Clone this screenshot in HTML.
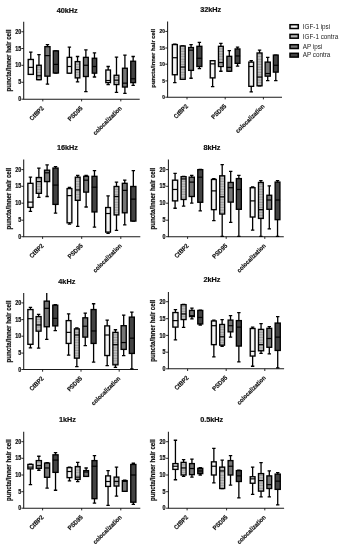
<!DOCTYPE html>
<html><head><meta charset="utf-8"><title>figure</title>
<style>html,body{margin:0;padding:0;background:#fff}svg{display:block}</style></head>
<body>
<svg width="342" height="550" viewBox="0 0 342 550" font-family="Liberation Sans, Arial, sans-serif">
<defs><linearGradient id="g1" x1="0" x2="1" y1="0" y2="0"><stop offset="0" stop-color="#d6d6d6"/><stop offset=".5" stop-color="#fafafa"/><stop offset="1" stop-color="#d6d6d6"/></linearGradient><pattern id="g2" width="4" height="2.6" patternUnits="userSpaceOnUse"><rect width="4" height="2.6" fill="#c4c4c4"/><rect y="1.5" width="4" height="1.1" fill="#9a9a9a"/></pattern></defs>
<rect width="342" height="550" fill="#fff"/>
<g>
<text transform="translate(67.2 12.7) scale(1,1.08)" font-size="7.3" font-weight="bold" text-anchor="middle" fill="#111" stroke="#111" stroke-width=".2">40kHz</text>
<path d="M23.7 21.8V99.2H139.7" fill="none" stroke="#1a1a1a" stroke-width="1.05"/>
<path d="M21.4 31.75H23.7" stroke="#111" stroke-width="0.9"/>
<text transform="translate(21.2 33.91) scale(1,1.2)" font-size="5.4" font-weight="bold" text-anchor="end" fill="#111" stroke="#111" stroke-width=".2">20</text>
<path d="M21.4 48.5H23.7" stroke="#111" stroke-width="0.9"/>
<text transform="translate(21.2 50.66) scale(1,1.2)" font-size="5.4" font-weight="bold" text-anchor="end" fill="#111" stroke="#111" stroke-width=".2">15</text>
<path d="M21.4 65.3H23.7" stroke="#111" stroke-width="0.9"/>
<text transform="translate(21.2 67.46) scale(1,1.2)" font-size="5.4" font-weight="bold" text-anchor="end" fill="#111" stroke="#111" stroke-width=".2">10</text>
<path d="M21.4 82.3H23.7" stroke="#111" stroke-width="0.9"/>
<text transform="translate(21.2 84.46) scale(1,1.2)" font-size="5.4" font-weight="bold" text-anchor="end" fill="#111" stroke="#111" stroke-width=".2">5</text>
<path d="M21.4 99.2H23.7" stroke="#111" stroke-width="0.9"/>
<text transform="translate(21.2 101.36) scale(1,1.2)" font-size="5.4" font-weight="bold" text-anchor="end" fill="#111" stroke="#111" stroke-width=".2">0</text>
<path d="M42.8 99.2v2.2" stroke="#111" stroke-width="0.9"/>
<path d="M81.6 99.2v2.2" stroke="#111" stroke-width="0.9"/>
<path d="M120.8 99.2v2.2" stroke="#111" stroke-width="0.9"/>
<text transform="translate(10.6 60.5) rotate(-90) scale(1,1.05)" font-size="6.15" font-weight="bold" text-anchor="middle" fill="#111" stroke="#111" stroke-width=".2">puncta/inner hair cell</text>
<text transform="translate(44.3 108.7) rotate(-45) scale(1,1.1)" font-size="5.75" font-weight="bold" text-anchor="end" fill="#111" stroke="#111" stroke-width=".15">CtBP2</text>
<text transform="translate(83.1 108.7) rotate(-45) scale(1,1.1)" font-size="5.75" font-weight="bold" text-anchor="end" fill="#111" stroke="#111" stroke-width=".15">PSD95</text>
<text transform="translate(122.3 108.7) rotate(-45) scale(1,1.1)" font-size="5.75" font-weight="bold" text-anchor="end" fill="#111" stroke="#111" stroke-width=".15">colocalization</text>
<path d="M30.79 52.11V74.39M29.09 52.11h3.4M29.09 74.39h3.4" stroke="#000" stroke-width="1.3" fill="none"/>
<rect x="28.21" y="59.47" width="5.14" height="14.91" fill="url(#g1)" stroke="#000" stroke-width="1.35"/>
<path d="M28.04 67.37H33.54" stroke="#000" stroke-width="1.2"/>
<path d="M38.95 54.56V79.65M37.25 54.56h3.4M37.25 79.65h3.4" stroke="#000" stroke-width="1.3" fill="none"/>
<rect x="36.63" y="65.26" width="4.61" height="14.39" fill="url(#g2)" stroke="#000" stroke-width="1.35"/>
<path d="M36.46 75.79H41.43" stroke="#000" stroke-width="1.2"/>
<path d="M47.46 44.56V84.04M45.76 44.56h3.4M45.76 84.04h3.4" stroke="#000" stroke-width="1.3" fill="none"/>
<rect x="44.88" y="46.67" width="5.14" height="29.47" fill="#767676" stroke="#000" stroke-width="1.35"/>
<path d="M44.71 55.61H50.2" stroke="#000" stroke-width="1.2"/>
<path d="M55.88 50.88V72.98M54.18 50.88h3.4M54.18 72.98h3.4" stroke="#000" stroke-width="1.3" fill="none"/>
<rect x="53.3" y="50.88" width="5.14" height="22.11" fill="#434343" stroke="#000" stroke-width="1.35"/>
<path d="M53.13 64.39H58.62" stroke="#000" stroke-width="1.2"/>
<path d="M69.39 47.19V73.16M67.69 47.19h3.4M67.69 73.16h3.4" stroke="#000" stroke-width="1.3" fill="none"/>
<rect x="67.16" y="57.37" width="4.44" height="15.79" fill="url(#g1)" stroke="#000" stroke-width="1.35"/>
<path d="M66.99 66.49H71.78" stroke="#000" stroke-width="1.2"/>
<path d="M77.54 56.49V81.93M75.84 56.49h3.4M75.84 81.93h3.4" stroke="#000" stroke-width="1.3" fill="none"/>
<rect x="75.23" y="61.58" width="4.61" height="16.32" fill="url(#g2)" stroke="#000" stroke-width="1.35"/>
<path d="M75.06 69.65H80.03" stroke="#000" stroke-width="1.2"/>
<path d="M85.88 49.82V91.58M84.18 49.82h3.4M84.18 91.58h3.4" stroke="#000" stroke-width="1.3" fill="none"/>
<rect x="83.48" y="57.37" width="4.79" height="19.12" fill="#767676" stroke="#000" stroke-width="1.35"/>
<path d="M83.31 65.26H88.45" stroke="#000" stroke-width="1.2"/>
<path d="M94.47 52.81V77.02M92.77 52.81h3.4M92.77 77.02h3.4" stroke="#000" stroke-width="1.3" fill="none"/>
<rect x="92.25" y="58.25" width="4.44" height="14.91" fill="#434343" stroke="#000" stroke-width="1.35"/>
<path d="M92.08 66.49H96.87" stroke="#000" stroke-width="1.2"/>
<path d="M108.16 66.49V84.56M106.46 66.49h3.4M106.46 84.56h3.4" stroke="#000" stroke-width="1.3" fill="none"/>
<rect x="105.85" y="70" width="4.61" height="12.63" fill="url(#g1)" stroke="#000" stroke-width="1.35"/>
<path d="M105.68 80.53H110.64" stroke="#000" stroke-width="1.2"/>
<path d="M116.49 57.19V92.28M114.79 57.19h3.4M114.79 92.28h3.4" stroke="#000" stroke-width="1.3" fill="none"/>
<rect x="114.09" y="75.26" width="4.79" height="9.3" fill="url(#g2)" stroke="#000" stroke-width="1.35"/>
<path d="M113.92 80.18H119.06" stroke="#000" stroke-width="1.2"/>
<path d="M124.91 55.09V93.33M123.21 55.09h3.4M123.21 93.33h3.4" stroke="#000" stroke-width="1.3" fill="none"/>
<rect x="122.51" y="68.25" width="4.79" height="18.77" fill="#767676" stroke="#000" stroke-width="1.35"/>
<path d="M122.34 83.16H127.48" stroke="#000" stroke-width="1.2"/>
<path d="M133.16 56.49V85.44M131.46 56.49h3.4M131.46 85.44h3.4" stroke="#000" stroke-width="1.3" fill="none"/>
<rect x="130.76" y="61.23" width="4.79" height="21.4" fill="#434343" stroke="#000" stroke-width="1.35"/>
<path d="M130.59 78.77H135.73" stroke="#000" stroke-width="1.2"/>
</g>
<g>
<text transform="translate(210.7 12.2) scale(1,1.08)" font-size="7.3" font-weight="bold" text-anchor="middle" fill="#111" stroke="#111" stroke-width=".2">32kHz</text>
<path d="M167.6 21.4V97.2H282" fill="none" stroke="#1a1a1a" stroke-width="1.05"/>
<path d="M165.3 31.4H167.6" stroke="#111" stroke-width="0.9"/>
<text transform="translate(164.9 33.32) scale(1,1.2)" font-size="4.8" font-weight="bold" text-anchor="end" fill="#111" stroke="#111" stroke-width=".2">20</text>
<path d="M165.3 48H167.6" stroke="#111" stroke-width="0.9"/>
<text transform="translate(164.9 49.92) scale(1,1.2)" font-size="4.8" font-weight="bold" text-anchor="end" fill="#111" stroke="#111" stroke-width=".2">15</text>
<path d="M165.3 64.2H167.6" stroke="#111" stroke-width="0.9"/>
<text transform="translate(164.9 66.12) scale(1,1.2)" font-size="4.8" font-weight="bold" text-anchor="end" fill="#111" stroke="#111" stroke-width=".2">10</text>
<path d="M165.3 80.9H167.6" stroke="#111" stroke-width="0.9"/>
<text transform="translate(164.9 82.82) scale(1,1.2)" font-size="4.8" font-weight="bold" text-anchor="end" fill="#111" stroke="#111" stroke-width=".2">5</text>
<path d="M165.3 97.2H167.6" stroke="#111" stroke-width="0.9"/>
<text transform="translate(164.9 99.12) scale(1,1.2)" font-size="4.8" font-weight="bold" text-anchor="end" fill="#111" stroke="#111" stroke-width=".2">0</text>
<path d="M187 97.2v2.2" stroke="#111" stroke-width="0.9"/>
<path d="M225.2 97.2v2.2" stroke="#111" stroke-width="0.9"/>
<path d="M263.4 97.2v2.2" stroke="#111" stroke-width="0.9"/>
<text transform="translate(154.8 58.3) rotate(-90) scale(1,0.98)" font-size="5.85" font-weight="bold" text-anchor="middle" fill="#111" stroke="#111" stroke-width=".2">puncta/inner hair cell</text>
<text transform="translate(188.5 106.7) rotate(-45) scale(1,1.1)" font-size="5.75" font-weight="bold" text-anchor="end" fill="#111" stroke="#111" stroke-width=".15">CtBP2</text>
<text transform="translate(226.7 106.7) rotate(-45) scale(1,1.1)" font-size="5.75" font-weight="bold" text-anchor="end" fill="#111" stroke="#111" stroke-width=".15">PSD95</text>
<text transform="translate(264.9 106.7) rotate(-45) scale(1,1.1)" font-size="5.75" font-weight="bold" text-anchor="end" fill="#111" stroke="#111" stroke-width=".15">colocalization</text>
<path d="M174.82 44.04V82.63M173.12 44.04h3.4M173.12 82.63h3.4" stroke="#000" stroke-width="1.3" fill="none"/>
<rect x="172.34" y="44.56" width="4.97" height="30.18" fill="url(#g1)" stroke="#000" stroke-width="1.35"/>
<path d="M172.17 57.72H177.48" stroke="#000" stroke-width="1.2"/>
<path d="M182.72 45.96V79.3M181.02 45.96h3.4M181.02 79.3h3.4" stroke="#000" stroke-width="1.3" fill="none"/>
<rect x="180.23" y="45.96" width="4.97" height="33.33" fill="url(#g2)" stroke="#000" stroke-width="1.35"/>
<path d="M180.06 67.02H185.38" stroke="#000" stroke-width="1.2"/>
<path d="M191.05 44.56V78.25M189.35 44.56h3.4M189.35 78.25h3.4" stroke="#000" stroke-width="1.3" fill="none"/>
<rect x="188.65" y="47.54" width="4.79" height="22.81" fill="#767676" stroke="#000" stroke-width="1.35"/>
<path d="M188.48 50.18H193.62" stroke="#000" stroke-width="1.2"/>
<path d="M199.39 42.28V68.6M197.69 42.28h3.4M197.69 68.6h3.4" stroke="#000" stroke-width="1.3" fill="none"/>
<rect x="196.9" y="46.32" width="4.97" height="20.18" fill="#434343" stroke="#000" stroke-width="1.35"/>
<path d="M196.73 58.25H202.04" stroke="#000" stroke-width="1.2"/>
<path d="M212.63 60.7V86.67M210.93 60.7h3.4M210.93 86.67h3.4" stroke="#000" stroke-width="1.3" fill="none"/>
<rect x="210.23" y="60.7" width="4.79" height="17.19" fill="url(#g1)" stroke="#000" stroke-width="1.35"/>
<path d="M210.06 63.86H215.2" stroke="#000" stroke-width="1.2"/>
<path d="M220.88 43.33V71.23M219.18 43.33h3.4M219.18 71.23h3.4" stroke="#000" stroke-width="1.3" fill="none"/>
<rect x="218.48" y="46.32" width="4.79" height="20.18" fill="url(#g2)" stroke="#000" stroke-width="1.35"/>
<path d="M218.31 62.63H223.45" stroke="#000" stroke-width="1.2"/>
<path d="M229.3 50.7V71.23M227.6 50.7h3.4M227.6 71.23h3.4" stroke="#000" stroke-width="1.3" fill="none"/>
<rect x="226.9" y="56.32" width="4.79" height="14.91" fill="#767676" stroke="#000" stroke-width="1.35"/>
<path d="M226.73 67.37H231.87" stroke="#000" stroke-width="1.2"/>
<path d="M237.54 47.19V66.14M235.84 47.19h3.4M235.84 66.14h3.4" stroke="#000" stroke-width="1.3" fill="none"/>
<rect x="235.14" y="48.95" width="4.79" height="14.39" fill="#434343" stroke="#000" stroke-width="1.35"/>
<path d="M234.97 55.96H240.11" stroke="#000" stroke-width="1.2"/>
<path d="M251.23 60.7V91.93M249.53 60.7h3.4M249.53 91.93h3.4" stroke="#000" stroke-width="1.3" fill="none"/>
<rect x="248.83" y="62.11" width="4.79" height="24.21" fill="url(#g1)" stroke="#000" stroke-width="1.35"/>
<path d="M248.66 66.49H253.8" stroke="#000" stroke-width="1.2"/>
<path d="M259.56 50.18V85.79M257.86 50.18h3.4M257.86 85.79h3.4" stroke="#000" stroke-width="1.3" fill="none"/>
<rect x="257.07" y="52.98" width="4.97" height="32.81" fill="url(#g2)" stroke="#000" stroke-width="1.35"/>
<path d="M256.9 77.02H262.22" stroke="#000" stroke-width="1.2"/>
<path d="M267.72 57.37V80.53M266.02 57.37h3.4M266.02 80.53h3.4" stroke="#000" stroke-width="1.3" fill="none"/>
<rect x="265.14" y="62.11" width="5.14" height="14.04" fill="#767676" stroke="#000" stroke-width="1.35"/>
<path d="M264.97 73.51H270.46" stroke="#000" stroke-width="1.2"/>
<path d="M275.79 55.09V80.53M274.09 55.09h3.4M274.09 80.53h3.4" stroke="#000" stroke-width="1.3" fill="none"/>
<rect x="273.39" y="55.09" width="4.79" height="17.02" fill="#434343" stroke="#000" stroke-width="1.35"/>
<path d="M273.22 65.26H278.36" stroke="#000" stroke-width="1.2"/>
</g>
<g>
<text transform="translate(67.4 150.2) scale(1,1.08)" font-size="7.3" font-weight="bold" text-anchor="middle" fill="#111" stroke="#111" stroke-width=".2">16kHz</text>
<path d="M23.7 159.6V236.7H140.3" fill="none" stroke="#1a1a1a" stroke-width="1.05"/>
<path d="M21.4 169.6H23.7" stroke="#111" stroke-width="0.9"/>
<text transform="translate(21.2 171.76) scale(1,1.2)" font-size="5.4" font-weight="bold" text-anchor="end" fill="#111" stroke="#111" stroke-width=".2">20</text>
<path d="M21.4 186.3H23.7" stroke="#111" stroke-width="0.9"/>
<text transform="translate(21.2 188.46) scale(1,1.2)" font-size="5.4" font-weight="bold" text-anchor="end" fill="#111" stroke="#111" stroke-width=".2">15</text>
<path d="M21.4 203.2H23.7" stroke="#111" stroke-width="0.9"/>
<text transform="translate(21.2 205.36) scale(1,1.2)" font-size="5.4" font-weight="bold" text-anchor="end" fill="#111" stroke="#111" stroke-width=".2">10</text>
<path d="M21.4 220.2H23.7" stroke="#111" stroke-width="0.9"/>
<text transform="translate(21.2 222.36) scale(1,1.2)" font-size="5.4" font-weight="bold" text-anchor="end" fill="#111" stroke="#111" stroke-width=".2">5</text>
<path d="M21.4 236.7H23.7" stroke="#111" stroke-width="0.9"/>
<text transform="translate(21.2 238.86) scale(1,1.2)" font-size="5.4" font-weight="bold" text-anchor="end" fill="#111" stroke="#111" stroke-width=".2">0</text>
<path d="M42.6 236.7v2.2" stroke="#111" stroke-width="0.9"/>
<path d="M81.7 236.7v2.2" stroke="#111" stroke-width="0.9"/>
<path d="M120.8 236.7v2.2" stroke="#111" stroke-width="0.9"/>
<text transform="translate(10.6 198.7) rotate(-90) scale(1,1.05)" font-size="6.15" font-weight="bold" text-anchor="middle" fill="#111" stroke="#111" stroke-width=".2">puncta/inner hair cell</text>
<text transform="translate(44.1 246.2) rotate(-45) scale(1,1.1)" font-size="5.75" font-weight="bold" text-anchor="end" fill="#111" stroke="#111" stroke-width=".15">CtBP2</text>
<text transform="translate(83.2 246.2) rotate(-45) scale(1,1.1)" font-size="5.75" font-weight="bold" text-anchor="end" fill="#111" stroke="#111" stroke-width=".15">PSD95</text>
<text transform="translate(122.3 246.2) rotate(-45) scale(1,1.1)" font-size="5.75" font-weight="bold" text-anchor="end" fill="#111" stroke="#111" stroke-width=".15">colocalization</text>
<path d="M30.44 177.19V211.4M28.74 177.19h3.4M28.74 211.4h3.4" stroke="#000" stroke-width="1.3" fill="none"/>
<rect x="27.86" y="183.33" width="5.14" height="24.04" fill="url(#g1)" stroke="#000" stroke-width="1.35"/>
<path d="M27.69 202.11H33.18" stroke="#000" stroke-width="1.2"/>
<path d="M38.86 168.07V197.37M37.16 168.07h3.4M37.16 197.37h3.4" stroke="#000" stroke-width="1.3" fill="none"/>
<rect x="36.28" y="177.54" width="5.14" height="15.79" fill="url(#g2)" stroke="#000" stroke-width="1.35"/>
<path d="M36.11 181.58H41.61" stroke="#000" stroke-width="1.2"/>
<path d="M47.11 164.91V196.49M45.41 164.91h3.4M45.41 196.49h3.4" stroke="#000" stroke-width="1.3" fill="none"/>
<rect x="44.53" y="170.18" width="5.14" height="11.4" fill="#767676" stroke="#000" stroke-width="1.35"/>
<path d="M44.36 172.81H49.85" stroke="#000" stroke-width="1.2"/>
<path d="M55.53 166.67V213.16M53.83 166.67h3.4M53.83 213.16h3.4" stroke="#000" stroke-width="1.3" fill="none"/>
<rect x="52.95" y="168.07" width="5.14" height="36.32" fill="#434343" stroke="#000" stroke-width="1.35"/>
<path d="M52.78 185.09H58.27" stroke="#000" stroke-width="1.2"/>
<path d="M69.47 187.37V224.04M67.77 187.37h3.4M67.77 224.04h3.4" stroke="#000" stroke-width="1.3" fill="none"/>
<rect x="67.07" y="188.6" width="4.79" height="34.21" fill="url(#g1)" stroke="#000" stroke-width="1.35"/>
<path d="M66.9 195.61H72.04" stroke="#000" stroke-width="1.2"/>
<path d="M77.72 175.44V226.32M76.02 175.44h3.4M76.02 226.32h3.4" stroke="#000" stroke-width="1.3" fill="none"/>
<rect x="75.32" y="177.19" width="4.79" height="23.16" fill="url(#g2)" stroke="#000" stroke-width="1.35"/>
<path d="M75.15 190H80.29" stroke="#000" stroke-width="1.2"/>
<path d="M86.14 175.44V207.02M84.44 175.44h3.4M84.44 207.02h3.4" stroke="#000" stroke-width="1.3" fill="none"/>
<rect x="83.74" y="176.32" width="4.79" height="15.79" fill="#767676" stroke="#000" stroke-width="1.35"/>
<path d="M83.57 180.18H88.71" stroke="#000" stroke-width="1.2"/>
<path d="M94.47 170.53V227.19M92.77 170.53h3.4M92.77 227.19h3.4" stroke="#000" stroke-width="1.3" fill="none"/>
<rect x="91.99" y="176.32" width="4.97" height="35.61" fill="#434343" stroke="#000" stroke-width="1.35"/>
<path d="M91.82 187.19H97.13" stroke="#000" stroke-width="1.2"/>
<path d="M108.07 195.96V233.33M106.37 195.96h3.4M106.37 233.33h3.4" stroke="#000" stroke-width="1.3" fill="none"/>
<rect x="105.67" y="207.54" width="4.79" height="24.56" fill="url(#g1)" stroke="#000" stroke-width="1.35"/>
<path d="M105.5 213.51H110.64" stroke="#000" stroke-width="1.2"/>
<path d="M116.49 182.11V230.35M114.79 182.11h3.4M114.79 230.35h3.4" stroke="#000" stroke-width="1.3" fill="none"/>
<rect x="114.09" y="186.49" width="4.79" height="28.42" fill="url(#g2)" stroke="#000" stroke-width="1.35"/>
<path d="M113.92 196.49H119.06" stroke="#000" stroke-width="1.2"/>
<path d="M124.74 180.18V224.91M123.04 180.18h3.4M123.04 224.91h3.4" stroke="#000" stroke-width="1.3" fill="none"/>
<rect x="122.34" y="183.33" width="4.79" height="29.47" fill="#767676" stroke="#000" stroke-width="1.35"/>
<path d="M122.17 190.35H127.31" stroke="#000" stroke-width="1.2"/>
<path d="M133.33 170.53V221.05M131.63 170.53h3.4M131.63 221.05h3.4" stroke="#000" stroke-width="1.3" fill="none"/>
<rect x="130.76" y="186.49" width="5.14" height="34.56" fill="#434343" stroke="#000" stroke-width="1.35"/>
<path d="M130.59 199.12H136.08" stroke="#000" stroke-width="1.2"/>
</g>
<g>
<text transform="translate(212 149.8) scale(1,1.08)" font-size="7.3" font-weight="bold" text-anchor="middle" fill="#111" stroke="#111" stroke-width=".2">8kHz</text>
<path d="M168.4 159.6V236.7H283.8" fill="none" stroke="#1a1a1a" stroke-width="1.05"/>
<path d="M166.1 169.6H168.4" stroke="#111" stroke-width="0.9"/>
<text transform="translate(165.55 171.76) scale(1,1.2)" font-size="5.4" font-weight="bold" text-anchor="end" fill="#111" stroke="#111" stroke-width=".2">20</text>
<path d="M166.1 186.3H168.4" stroke="#111" stroke-width="0.9"/>
<text transform="translate(165.55 188.46) scale(1,1.2)" font-size="5.4" font-weight="bold" text-anchor="end" fill="#111" stroke="#111" stroke-width=".2">15</text>
<path d="M166.1 203.2H168.4" stroke="#111" stroke-width="0.9"/>
<text transform="translate(165.55 205.36) scale(1,1.2)" font-size="5.4" font-weight="bold" text-anchor="end" fill="#111" stroke="#111" stroke-width=".2">10</text>
<path d="M166.1 220.2H168.4" stroke="#111" stroke-width="0.9"/>
<text transform="translate(165.55 222.36) scale(1,1.2)" font-size="5.4" font-weight="bold" text-anchor="end" fill="#111" stroke="#111" stroke-width=".2">5</text>
<path d="M166.1 236.7H168.4" stroke="#111" stroke-width="0.9"/>
<text transform="translate(165.55 238.86) scale(1,1.2)" font-size="5.4" font-weight="bold" text-anchor="end" fill="#111" stroke="#111" stroke-width=".2">0</text>
<path d="M187.6 236.7v2.2" stroke="#111" stroke-width="0.9"/>
<path d="M226.2 236.7v2.2" stroke="#111" stroke-width="0.9"/>
<path d="M264.8 236.7v2.2" stroke="#111" stroke-width="0.9"/>
<text transform="translate(155.1 198.7) rotate(-90) scale(1,1.05)" font-size="6.15" font-weight="bold" text-anchor="middle" fill="#111" stroke="#111" stroke-width=".2">puncta/inner hair cell</text>
<text transform="translate(189.1 246.2) rotate(-45) scale(1,1.1)" font-size="5.75" font-weight="bold" text-anchor="end" fill="#111" stroke="#111" stroke-width=".15">CtBP2</text>
<text transform="translate(227.7 246.2) rotate(-45) scale(1,1.1)" font-size="5.75" font-weight="bold" text-anchor="end" fill="#111" stroke="#111" stroke-width=".15">PSD95</text>
<text transform="translate(266.3 246.2) rotate(-45) scale(1,1.1)" font-size="5.75" font-weight="bold" text-anchor="end" fill="#111" stroke="#111" stroke-width=".15">colocalization</text>
<path d="M175.09 173.33V208.25M173.39 173.33h3.4M173.39 208.25h3.4" stroke="#000" stroke-width="1.3" fill="none"/>
<rect x="172.51" y="180.18" width="5.14" height="20.7" fill="url(#g1)" stroke="#000" stroke-width="1.35"/>
<path d="M172.34 189.47H177.83" stroke="#000" stroke-width="1.2"/>
<path d="M183.6 176.32V206.14M181.9 176.32h3.4M181.9 206.14h3.4" stroke="#000" stroke-width="1.3" fill="none"/>
<rect x="181.11" y="176.67" width="4.97" height="22.81" fill="url(#g2)" stroke="#000" stroke-width="1.35"/>
<path d="M180.94 178.95H186.25" stroke="#000" stroke-width="1.2"/>
<path d="M191.75 175.44V203.16M190.05 175.44h3.4M190.05 203.16h3.4" stroke="#000" stroke-width="1.3" fill="none"/>
<rect x="189.18" y="177.19" width="5.14" height="19.3" fill="#767676" stroke="#000" stroke-width="1.35"/>
<path d="M189.01 182.11H194.5" stroke="#000" stroke-width="1.2"/>
<path d="M200.26 169.3V210.88M198.56 169.3h3.4M198.56 210.88h3.4" stroke="#000" stroke-width="1.3" fill="none"/>
<rect x="197.78" y="169.65" width="4.97" height="32.63" fill="#434343" stroke="#000" stroke-width="1.35"/>
<path d="M197.61 177.19H202.92" stroke="#000" stroke-width="1.2"/>
<path d="M213.86 178.6V220.53M212.16 178.6h3.4M212.16 220.53h3.4" stroke="#000" stroke-width="1.3" fill="none"/>
<rect x="211.46" y="179.47" width="4.79" height="30.18" fill="url(#g1)" stroke="#000" stroke-width="1.35"/>
<path d="M211.29 190.88H216.43" stroke="#000" stroke-width="1.2"/>
<path d="M222.19 164.56V236.32M220.49 164.56h3.4M220.49 236.32h3.4" stroke="#000" stroke-width="1.3" fill="none"/>
<rect x="219.71" y="175.79" width="4.97" height="38.25" fill="url(#g2)" stroke="#000" stroke-width="1.35"/>
<path d="M219.54 196.84H224.85" stroke="#000" stroke-width="1.2"/>
<path d="M230.7 171.4V222.28M229 171.4h3.4M229 222.28h3.4" stroke="#000" stroke-width="1.3" fill="none"/>
<rect x="228.13" y="182.46" width="5.14" height="19.65" fill="#767676" stroke="#000" stroke-width="1.35"/>
<path d="M227.96 187.72H233.45" stroke="#000" stroke-width="1.2"/>
<path d="M238.86 175.44V236.32M237.16 175.44h3.4M237.16 236.32h3.4" stroke="#000" stroke-width="1.3" fill="none"/>
<rect x="236.37" y="178.6" width="4.97" height="30.7" fill="#434343" stroke="#000" stroke-width="1.35"/>
<path d="M236.2 189.47H241.52" stroke="#000" stroke-width="1.2"/>
<path d="M252.63 186.84V230.18M250.93 186.84h3.4M250.93 230.18h3.4" stroke="#000" stroke-width="1.3" fill="none"/>
<rect x="250.23" y="187.72" width="4.79" height="29.3" fill="url(#g1)" stroke="#000" stroke-width="1.35"/>
<path d="M250.06 200.88H255.2" stroke="#000" stroke-width="1.2"/>
<path d="M260.88 180.7V236.32M259.18 180.7h3.4M259.18 236.32h3.4" stroke="#000" stroke-width="1.3" fill="none"/>
<rect x="258.48" y="182.46" width="4.79" height="35.96" fill="url(#g2)" stroke="#000" stroke-width="1.35"/>
<path d="M258.31 209.65H263.45" stroke="#000" stroke-width="1.2"/>
<path d="M269.3 185.96V228.95M267.6 185.96h3.4M267.6 228.95h3.4" stroke="#000" stroke-width="1.3" fill="none"/>
<rect x="266.9" y="195.26" width="4.79" height="14.04" fill="#767676" stroke="#000" stroke-width="1.35"/>
<path d="M266.73 200H271.87" stroke="#000" stroke-width="1.2"/>
<path d="M277.54 180.7V236.32M275.84 180.7h3.4M275.84 236.32h3.4" stroke="#000" stroke-width="1.3" fill="none"/>
<rect x="275.14" y="182.11" width="4.79" height="37.54" fill="#434343" stroke="#000" stroke-width="1.35"/>
<path d="M274.97 200H280.11" stroke="#000" stroke-width="1.2"/>
</g>
<g>
<text transform="translate(66.8 284.3) scale(1,1.08)" font-size="7.3" font-weight="bold" text-anchor="middle" fill="#111" stroke="#111" stroke-width=".2">4kHz</text>
<path d="M23.7 292.9V369.5H138" fill="none" stroke="#1a1a1a" stroke-width="1.05"/>
<path d="M21.4 302.9H23.7" stroke="#111" stroke-width="0.9"/>
<text transform="translate(21.2 305.06) scale(1,1.2)" font-size="5.4" font-weight="bold" text-anchor="end" fill="#111" stroke="#111" stroke-width=".2">20</text>
<path d="M21.4 319.6H23.7" stroke="#111" stroke-width="0.9"/>
<text transform="translate(21.2 321.76) scale(1,1.2)" font-size="5.4" font-weight="bold" text-anchor="end" fill="#111" stroke="#111" stroke-width=".2">15</text>
<path d="M21.4 336.2H23.7" stroke="#111" stroke-width="0.9"/>
<text transform="translate(21.2 338.36) scale(1,1.2)" font-size="5.4" font-weight="bold" text-anchor="end" fill="#111" stroke="#111" stroke-width=".2">10</text>
<path d="M21.4 353.1H23.7" stroke="#111" stroke-width="0.9"/>
<text transform="translate(21.2 355.26) scale(1,1.2)" font-size="5.4" font-weight="bold" text-anchor="end" fill="#111" stroke="#111" stroke-width=".2">5</text>
<path d="M21.4 369.5H23.7" stroke="#111" stroke-width="0.9"/>
<text transform="translate(21.2 371.66) scale(1,1.2)" font-size="5.4" font-weight="bold" text-anchor="end" fill="#111" stroke="#111" stroke-width=".2">0</text>
<path d="M42.6 369.5v2.2" stroke="#111" stroke-width="0.9"/>
<path d="M81 369.5v2.2" stroke="#111" stroke-width="0.9"/>
<path d="M119.2 369.5v2.2" stroke="#111" stroke-width="0.9"/>
<text transform="translate(10.6 331.5) rotate(-90) scale(1,1.05)" font-size="6.15" font-weight="bold" text-anchor="middle" fill="#111" stroke="#111" stroke-width=".2">puncta/inner hair cell</text>
<text transform="translate(44.1 379) rotate(-45) scale(1,1.1)" font-size="5.75" font-weight="bold" text-anchor="end" fill="#111" stroke="#111" stroke-width=".15">CtBP2</text>
<text transform="translate(82.5 379) rotate(-45) scale(1,1.1)" font-size="5.75" font-weight="bold" text-anchor="end" fill="#111" stroke="#111" stroke-width=".15">PSD95</text>
<text transform="translate(120.7 379) rotate(-45) scale(1,1.1)" font-size="5.75" font-weight="bold" text-anchor="end" fill="#111" stroke="#111" stroke-width=".15">colocalization</text>
<path d="M30.44 307.28V347.81M28.74 307.28h3.4M28.74 347.81h3.4" stroke="#000" stroke-width="1.3" fill="none"/>
<rect x="27.86" y="309.56" width="5.14" height="34.74" fill="url(#g1)" stroke="#000" stroke-width="1.35"/>
<path d="M27.69 318.68H33.18" stroke="#000" stroke-width="1.2"/>
<path d="M38.6 314.47V348.16M36.9 314.47h3.4M36.9 348.16h3.4" stroke="#000" stroke-width="1.3" fill="none"/>
<rect x="36.11" y="316.58" width="4.97" height="14.56" fill="url(#g2)" stroke="#000" stroke-width="1.35"/>
<path d="M35.94 325H41.25" stroke="#000" stroke-width="1.2"/>
<path d="M46.75 292.89V339.39M45.05 339.39h3.4" stroke="#000" stroke-width="1.3" fill="none"/>
<rect x="44.18" y="301.14" width="5.14" height="25.61" fill="#767676" stroke="#000" stroke-width="1.35"/>
<path d="M44.01 308.33H49.5" stroke="#000" stroke-width="1.2"/>
<path d="M55.26 304.65V330.61M53.56 304.65h3.4M53.56 330.61h3.4" stroke="#000" stroke-width="1.3" fill="none"/>
<rect x="52.78" y="305.18" width="4.97" height="20.7" fill="#434343" stroke="#000" stroke-width="1.35"/>
<path d="M52.61 318.33H57.92" stroke="#000" stroke-width="1.2"/>
<path d="M68.6 313.95V355.18M66.9 313.95h3.4M66.9 355.18h3.4" stroke="#000" stroke-width="1.3" fill="none"/>
<rect x="66.2" y="320.61" width="4.79" height="22.81" fill="url(#g1)" stroke="#000" stroke-width="1.35"/>
<path d="M66.03 332.37H71.17" stroke="#000" stroke-width="1.2"/>
<path d="M76.84 327.98V366.58M75.14 327.98h3.4M75.14 366.58h3.4" stroke="#000" stroke-width="1.3" fill="none"/>
<rect x="74.44" y="328.86" width="4.79" height="29.3" fill="url(#g2)" stroke="#000" stroke-width="1.35"/>
<path d="M74.27 335H79.41" stroke="#000" stroke-width="1.2"/>
<path d="M85.26 313.07V345.53M83.56 313.07h3.4M83.56 345.53h3.4" stroke="#000" stroke-width="1.3" fill="none"/>
<rect x="82.86" y="317.81" width="4.79" height="19.3" fill="#767676" stroke="#000" stroke-width="1.35"/>
<path d="M82.69 326.23H87.83" stroke="#000" stroke-width="1.2"/>
<path d="M93.6 303.77V362.19M91.9 303.77h3.4M91.9 362.19h3.4" stroke="#000" stroke-width="1.3" fill="none"/>
<rect x="91.11" y="309.56" width="4.97" height="33.86" fill="#434343" stroke="#000" stroke-width="1.35"/>
<path d="M90.94 330.96H96.25" stroke="#000" stroke-width="1.2"/>
<path d="M107.19 320.09V365.7M105.49 320.09h3.4M105.49 365.7h3.4" stroke="#000" stroke-width="1.3" fill="none"/>
<rect x="104.79" y="325.88" width="4.79" height="29.65" fill="url(#g1)" stroke="#000" stroke-width="1.35"/>
<path d="M104.62 335H109.76" stroke="#000" stroke-width="1.2"/>
<path d="M115.44 329.74V367.46M113.74 329.74h3.4M113.74 367.46h3.4" stroke="#000" stroke-width="1.3" fill="none"/>
<rect x="112.86" y="332.37" width="5.14" height="32.46" fill="url(#g2)" stroke="#000" stroke-width="1.35"/>
<path d="M112.69 344.65H118.18" stroke="#000" stroke-width="1.2"/>
<path d="M123.68 315.18V355.7M121.98 315.18h3.4M121.98 355.7h3.4" stroke="#000" stroke-width="1.3" fill="none"/>
<rect x="121.11" y="325.7" width="5.14" height="23.68" fill="#767676" stroke="#000" stroke-width="1.35"/>
<path d="M120.94 342.54H126.43" stroke="#000" stroke-width="1.2"/>
<path d="M131.84 312.19V368.86M130.14 312.19h3.4M130.14 368.86h3.4" stroke="#000" stroke-width="1.3" fill="none"/>
<rect x="129.35" y="317.11" width="4.97" height="36.32" fill="#434343" stroke="#000" stroke-width="1.35"/>
<path d="M129.18 338.16H134.5" stroke="#000" stroke-width="1.2"/>
</g>
<g>
<text transform="translate(212 282.3) scale(1,1.08)" font-size="7.3" font-weight="bold" text-anchor="middle" fill="#111" stroke="#111" stroke-width=".2">2kHz</text>
<path d="M168.4 292V368.8H284.1" fill="none" stroke="#1a1a1a" stroke-width="1.05"/>
<path d="M166.1 301.7H168.4" stroke="#111" stroke-width="0.9"/>
<text transform="translate(165.55 303.86) scale(1,1.2)" font-size="5.4" font-weight="bold" text-anchor="end" fill="#111" stroke="#111" stroke-width=".2">20</text>
<path d="M166.1 318.7H168.4" stroke="#111" stroke-width="0.9"/>
<text transform="translate(165.55 320.86) scale(1,1.2)" font-size="5.4" font-weight="bold" text-anchor="end" fill="#111" stroke="#111" stroke-width=".2">15</text>
<path d="M166.1 335.4H168.4" stroke="#111" stroke-width="0.9"/>
<text transform="translate(165.55 337.56) scale(1,1.2)" font-size="5.4" font-weight="bold" text-anchor="end" fill="#111" stroke="#111" stroke-width=".2">10</text>
<path d="M166.1 352.2H168.4" stroke="#111" stroke-width="0.9"/>
<text transform="translate(165.55 354.36) scale(1,1.2)" font-size="5.4" font-weight="bold" text-anchor="end" fill="#111" stroke="#111" stroke-width=".2">5</text>
<path d="M166.1 368.8H168.4" stroke="#111" stroke-width="0.9"/>
<text transform="translate(165.55 370.96) scale(1,1.2)" font-size="5.4" font-weight="bold" text-anchor="end" fill="#111" stroke="#111" stroke-width=".2">0</text>
<path d="M187.6 368.8v2.2" stroke="#111" stroke-width="0.9"/>
<path d="M226.2 368.8v2.2" stroke="#111" stroke-width="0.9"/>
<path d="M264.8 368.8v2.2" stroke="#111" stroke-width="0.9"/>
<text transform="translate(155.1 330.8) rotate(-90) scale(1,1.05)" font-size="6.15" font-weight="bold" text-anchor="middle" fill="#111" stroke="#111" stroke-width=".2">puncta/inner hair cell</text>
<text transform="translate(189.1 378.3) rotate(-45) scale(1,1.1)" font-size="5.75" font-weight="bold" text-anchor="end" fill="#111" stroke="#111" stroke-width=".15">CtBP2</text>
<text transform="translate(227.7 378.3) rotate(-45) scale(1,1.1)" font-size="5.75" font-weight="bold" text-anchor="end" fill="#111" stroke="#111" stroke-width=".15">PSD95</text>
<text transform="translate(266.3 378.3) rotate(-45) scale(1,1.1)" font-size="5.75" font-weight="bold" text-anchor="end" fill="#111" stroke="#111" stroke-width=".15">colocalization</text>
<path d="M175.44 309.56V339.91M173.74 309.56h3.4M173.74 339.91h3.4" stroke="#000" stroke-width="1.3" fill="none"/>
<rect x="172.86" y="312.54" width="5.14" height="14.56" fill="url(#g1)" stroke="#000" stroke-width="1.35"/>
<path d="M172.69 320.61H178.18" stroke="#000" stroke-width="1.2"/>
<path d="M183.6 304.3V327.46M181.9 304.3h3.4M181.9 327.46h3.4" stroke="#000" stroke-width="1.3" fill="none"/>
<rect x="181.11" y="304.65" width="4.97" height="14.91" fill="url(#g2)" stroke="#000" stroke-width="1.35"/>
<path d="M180.94 313.95H186.25" stroke="#000" stroke-width="1.2"/>
<path d="M191.93 308.16V318.86M190.23 308.16h3.4M190.23 318.86h3.4" stroke="#000" stroke-width="1.3" fill="none"/>
<rect x="189.53" y="310.44" width="4.79" height="6.14" fill="#767676" stroke="#000" stroke-width="1.35"/>
<path d="M189.36 315.7H194.5" stroke="#000" stroke-width="1.2"/>
<path d="M200.26 310.09V325M198.56 310.09h3.4M198.56 325h3.4" stroke="#000" stroke-width="1.3" fill="none"/>
<rect x="197.78" y="310.44" width="4.97" height="13.51" fill="#434343" stroke="#000" stroke-width="1.35"/>
<path d="M197.61 317.46H202.92" stroke="#000" stroke-width="1.2"/>
<path d="M213.86 320.09V356.93M212.16 320.09h3.4M212.16 356.93h3.4" stroke="#000" stroke-width="1.3" fill="none"/>
<rect x="211.46" y="320.96" width="4.79" height="23.68" fill="url(#g1)" stroke="#000" stroke-width="1.35"/>
<path d="M211.29 325.7H216.43" stroke="#000" stroke-width="1.2"/>
<path d="M222.11 319.56V346.4M220.41 319.56h3.4M220.41 346.4h3.4" stroke="#000" stroke-width="1.3" fill="none"/>
<rect x="219.71" y="324.47" width="4.79" height="20.7" fill="url(#g2)" stroke="#000" stroke-width="1.35"/>
<path d="M219.54 336.75H224.68" stroke="#000" stroke-width="1.2"/>
<path d="M230.53 315.7V337.11M228.83 315.7h3.4M228.83 337.11h3.4" stroke="#000" stroke-width="1.3" fill="none"/>
<rect x="228.13" y="320.09" width="4.79" height="11.75" fill="#767676" stroke="#000" stroke-width="1.35"/>
<path d="M227.96 325.7H233.1" stroke="#000" stroke-width="1.2"/>
<path d="M238.86 312.54V361.84M237.16 312.54h3.4M237.16 361.84h3.4" stroke="#000" stroke-width="1.3" fill="none"/>
<rect x="236.37" y="320.61" width="4.97" height="25.44" fill="#434343" stroke="#000" stroke-width="1.35"/>
<path d="M236.2 327.11H241.52" stroke="#000" stroke-width="1.2"/>
<path d="M252.63 327.11V366.23M250.93 327.11h3.4M250.93 366.23h3.4" stroke="#000" stroke-width="1.3" fill="none"/>
<rect x="250.23" y="328.51" width="4.79" height="27.54" fill="url(#g1)" stroke="#000" stroke-width="1.35"/>
<path d="M250.06 351.32H255.2" stroke="#000" stroke-width="1.2"/>
<path d="M261.05 323.6V353.42M259.35 323.6h3.4M259.35 353.42h3.4" stroke="#000" stroke-width="1.3" fill="none"/>
<rect x="258.48" y="329.39" width="5.14" height="21.4" fill="url(#g2)" stroke="#000" stroke-width="1.35"/>
<path d="M258.31 344.65H263.8" stroke="#000" stroke-width="1.2"/>
<path d="M269.3 326.58V353.95M267.6 326.58h3.4M267.6 353.95h3.4" stroke="#000" stroke-width="1.3" fill="none"/>
<rect x="266.9" y="328.33" width="4.79" height="18.95" fill="#767676" stroke="#000" stroke-width="1.35"/>
<path d="M266.73 338.51H271.87" stroke="#000" stroke-width="1.2"/>
<path d="M277.72 316.58V367.81M276.02 316.58h3.4M276.02 367.81h3.4" stroke="#000" stroke-width="1.3" fill="none"/>
<rect x="275.14" y="323.07" width="5.14" height="27.37" fill="#434343" stroke="#000" stroke-width="1.35"/>
<path d="M274.97 337.11H280.46" stroke="#000" stroke-width="1.2"/>
</g>
<g>
<text transform="translate(67.5 421.8) scale(1,1.08)" font-size="7.3" font-weight="bold" text-anchor="middle" fill="#111" stroke="#111" stroke-width=".2">1kHz</text>
<path d="M23.7 431.7V508.2H140.3" fill="none" stroke="#1a1a1a" stroke-width="1.05"/>
<path d="M21.4 441.7H23.7" stroke="#111" stroke-width="0.9"/>
<text transform="translate(21.2 443.86) scale(1,1.2)" font-size="5.4" font-weight="bold" text-anchor="end" fill="#111" stroke="#111" stroke-width=".2">20</text>
<path d="M21.4 458.3H23.7" stroke="#111" stroke-width="0.9"/>
<text transform="translate(21.2 460.46) scale(1,1.2)" font-size="5.4" font-weight="bold" text-anchor="end" fill="#111" stroke="#111" stroke-width=".2">15</text>
<path d="M21.4 475H23.7" stroke="#111" stroke-width="0.9"/>
<text transform="translate(21.2 477.16) scale(1,1.2)" font-size="5.4" font-weight="bold" text-anchor="end" fill="#111" stroke="#111" stroke-width=".2">10</text>
<path d="M21.4 491.7H23.7" stroke="#111" stroke-width="0.9"/>
<text transform="translate(21.2 493.86) scale(1,1.2)" font-size="5.4" font-weight="bold" text-anchor="end" fill="#111" stroke="#111" stroke-width=".2">5</text>
<path d="M21.4 508.2H23.7" stroke="#111" stroke-width="0.9"/>
<text transform="translate(21.2 510.36) scale(1,1.2)" font-size="5.4" font-weight="bold" text-anchor="end" fill="#111" stroke="#111" stroke-width=".2">0</text>
<path d="M42.6 508.2v2.2" stroke="#111" stroke-width="0.9"/>
<path d="M81.7 508.2v2.2" stroke="#111" stroke-width="0.9"/>
<path d="M120.8 508.2v2.2" stroke="#111" stroke-width="0.9"/>
<text transform="translate(10.6 470.2) rotate(-90) scale(1,1.05)" font-size="6.15" font-weight="bold" text-anchor="middle" fill="#111" stroke="#111" stroke-width=".2">puncta/inner hair cell</text>
<text transform="translate(44.1 517.7) rotate(-45) scale(1,1.1)" font-size="5.75" font-weight="bold" text-anchor="end" fill="#111" stroke="#111" stroke-width=".15">CtBP2</text>
<text transform="translate(83.2 517.7) rotate(-45) scale(1,1.1)" font-size="5.75" font-weight="bold" text-anchor="end" fill="#111" stroke="#111" stroke-width=".15">PSD95</text>
<text transform="translate(122.3 517.7) rotate(-45) scale(1,1.1)" font-size="5.75" font-weight="bold" text-anchor="end" fill="#111" stroke="#111" stroke-width=".15">colocalization</text>
<path d="M30.44 464.12V484.65M28.74 464.12h3.4M28.74 484.65h3.4" stroke="#000" stroke-width="1.3" fill="none"/>
<rect x="27.86" y="464.47" width="5.14" height="4.39" fill="url(#g1)" stroke="#000" stroke-width="1.35"/>
<path d="M27.69 467.11H33.18" stroke="#000" stroke-width="1.2"/>
<path d="M38.86 456.23V470.26M37.16 456.23h3.4M37.16 470.26h3.4" stroke="#000" stroke-width="1.3" fill="none"/>
<rect x="36.28" y="460.61" width="5.14" height="7.72" fill="url(#g2)" stroke="#000" stroke-width="1.35"/>
<path d="M36.11 465.7H41.61" stroke="#000" stroke-width="1.2"/>
<path d="M47.11 462.72V488.16M45.41 462.72h3.4M45.41 488.16h3.4" stroke="#000" stroke-width="1.3" fill="none"/>
<rect x="44.53" y="463.07" width="5.14" height="14.21" fill="#767676" stroke="#000" stroke-width="1.35"/>
<path d="M44.36 467.98H49.85" stroke="#000" stroke-width="1.2"/>
<path d="M55.53 452.54V490.26M53.83 452.54h3.4M53.83 490.26h3.4" stroke="#000" stroke-width="1.3" fill="none"/>
<rect x="52.95" y="454.82" width="5.14" height="17.54" fill="#434343" stroke="#000" stroke-width="1.35"/>
<path d="M52.78 460.09H58.27" stroke="#000" stroke-width="1.2"/>
<path d="M69.47 467.11V480.79M67.77 467.11h3.4M67.77 480.79h3.4" stroke="#000" stroke-width="1.3" fill="none"/>
<rect x="67.07" y="467.63" width="4.79" height="10" fill="url(#g1)" stroke="#000" stroke-width="1.35"/>
<path d="M66.9 471.49H72.04" stroke="#000" stroke-width="1.2"/>
<path d="M77.72 462.37V481.67M76.02 462.37h3.4M76.02 481.67h3.4" stroke="#000" stroke-width="1.3" fill="none"/>
<rect x="75.32" y="466.58" width="4.79" height="12.81" fill="url(#g2)" stroke="#000" stroke-width="1.35"/>
<path d="M75.15 477.11H80.29" stroke="#000" stroke-width="1.2"/>
<path d="M86.14 467.98V476.4M84.44 467.98h3.4M84.44 476.4h3.4" stroke="#000" stroke-width="1.3" fill="none"/>
<rect x="83.74" y="470.61" width="4.79" height="5.79" fill="#767676" stroke="#000" stroke-width="1.35"/>
<path d="M83.57 472.02H88.71" stroke="#000" stroke-width="1.2"/>
<path d="M94.47 455.7V503.07M92.77 455.7h3.4M92.77 503.07h3.4" stroke="#000" stroke-width="1.3" fill="none"/>
<rect x="91.99" y="460.61" width="4.97" height="38.07" fill="#434343" stroke="#000" stroke-width="1.35"/>
<path d="M91.82 466.23H97.13" stroke="#000" stroke-width="1.2"/>
<path d="M108.07 470.61V505.35M106.37 470.61h3.4M106.37 505.35h3.4" stroke="#000" stroke-width="1.3" fill="none"/>
<rect x="105.67" y="475.88" width="4.79" height="10.53" fill="url(#g1)" stroke="#000" stroke-width="1.35"/>
<path d="M105.5 481.49H110.64" stroke="#000" stroke-width="1.2"/>
<path d="M116.49 467.11V496.05M114.79 467.11h3.4M114.79 496.05h3.4" stroke="#000" stroke-width="1.3" fill="none"/>
<rect x="114.09" y="477.11" width="4.79" height="8.95" fill="url(#g2)" stroke="#000" stroke-width="1.35"/>
<path d="M113.92 481.49H119.06" stroke="#000" stroke-width="1.2"/>
<path d="M124.74 480.26V491.32M123.04 480.26h3.4M123.04 491.32h3.4" stroke="#000" stroke-width="1.3" fill="none"/>
<rect x="122.34" y="480.61" width="4.79" height="10.7" fill="#767676" stroke="#000" stroke-width="1.35"/>
<path d="M122.17 481.32H127.31" stroke="#000" stroke-width="1.2"/>
<path d="M133.33 463.25V504.3M131.63 463.25h3.4M131.63 504.3h3.4" stroke="#000" stroke-width="1.3" fill="none"/>
<rect x="130.76" y="464.47" width="5.14" height="37.72" fill="#434343" stroke="#000" stroke-width="1.35"/>
<path d="M130.59 475H136.08" stroke="#000" stroke-width="1.2"/>
</g>
<g>
<text transform="translate(211.7 421.9) scale(1,1.08)" font-size="7.3" font-weight="bold" text-anchor="middle" fill="#111" stroke="#111" stroke-width=".2">0.5kHz</text>
<path d="M168.4 431.7V508.2H284.1" fill="none" stroke="#1a1a1a" stroke-width="1.05"/>
<path d="M166.1 441.7H168.4" stroke="#111" stroke-width="0.9"/>
<text transform="translate(165.55 443.86) scale(1,1.2)" font-size="5.4" font-weight="bold" text-anchor="end" fill="#111" stroke="#111" stroke-width=".2">20</text>
<path d="M166.1 458.3H168.4" stroke="#111" stroke-width="0.9"/>
<text transform="translate(165.55 460.46) scale(1,1.2)" font-size="5.4" font-weight="bold" text-anchor="end" fill="#111" stroke="#111" stroke-width=".2">15</text>
<path d="M166.1 475H168.4" stroke="#111" stroke-width="0.9"/>
<text transform="translate(165.55 477.16) scale(1,1.2)" font-size="5.4" font-weight="bold" text-anchor="end" fill="#111" stroke="#111" stroke-width=".2">10</text>
<path d="M166.1 491.7H168.4" stroke="#111" stroke-width="0.9"/>
<text transform="translate(165.55 493.86) scale(1,1.2)" font-size="5.4" font-weight="bold" text-anchor="end" fill="#111" stroke="#111" stroke-width=".2">5</text>
<path d="M166.1 508.2H168.4" stroke="#111" stroke-width="0.9"/>
<text transform="translate(165.55 510.36) scale(1,1.2)" font-size="5.4" font-weight="bold" text-anchor="end" fill="#111" stroke="#111" stroke-width=".2">0</text>
<path d="M187.1 508.2v2.2" stroke="#111" stroke-width="0.9"/>
<path d="M226.6 508.2v2.2" stroke="#111" stroke-width="0.9"/>
<path d="M264.8 508.2v2.2" stroke="#111" stroke-width="0.9"/>
<text transform="translate(155.1 470.2) rotate(-90) scale(1,1.05)" font-size="6.15" font-weight="bold" text-anchor="middle" fill="#111" stroke="#111" stroke-width=".2">puncta/inner hair cell</text>
<text transform="translate(188.6 517.7) rotate(-45) scale(1,1.1)" font-size="5.75" font-weight="bold" text-anchor="end" fill="#111" stroke="#111" stroke-width=".15">CtBP2</text>
<text transform="translate(228.1 517.7) rotate(-45) scale(1,1.1)" font-size="5.75" font-weight="bold" text-anchor="end" fill="#111" stroke="#111" stroke-width=".15">PSD95</text>
<text transform="translate(266.3 517.7) rotate(-45) scale(1,1.1)" font-size="5.75" font-weight="bold" text-anchor="end" fill="#111" stroke="#111" stroke-width=".15">colocalization</text>
<path d="M175.44 440.26V479.74M173.74 440.26h3.4M173.74 479.74h3.4" stroke="#000" stroke-width="1.3" fill="none"/>
<rect x="172.86" y="463.6" width="5.14" height="5.79" fill="url(#g1)" stroke="#000" stroke-width="1.35"/>
<path d="M172.69 466.23H178.18" stroke="#000" stroke-width="1.2"/>
<path d="M183.6 459.56V476.4M181.9 459.56h3.4M181.9 476.4h3.4" stroke="#000" stroke-width="1.3" fill="none"/>
<rect x="181.11" y="462.37" width="4.97" height="12.63" fill="url(#g2)" stroke="#000" stroke-width="1.35"/>
<path d="M180.94 467.98H186.25" stroke="#000" stroke-width="1.2"/>
<path d="M191.93 459.21V477.11M190.23 459.21h3.4M190.23 477.11h3.4" stroke="#000" stroke-width="1.3" fill="none"/>
<rect x="189.53" y="463.6" width="4.79" height="11.05" fill="#767676" stroke="#000" stroke-width="1.35"/>
<path d="M189.36 468.51H194.5" stroke="#000" stroke-width="1.2"/>
<path d="M200.26 467.63V475M198.56 467.63h3.4M198.56 475h3.4" stroke="#000" stroke-width="1.3" fill="none"/>
<rect x="197.78" y="468.33" width="4.97" height="5.26" fill="#434343" stroke="#000" stroke-width="1.35"/>
<path d="M197.61 470.96H202.92" stroke="#000" stroke-width="1.2"/>
<path d="M213.86 448.33V482.89M212.16 448.33h3.4M212.16 482.89h3.4" stroke="#000" stroke-width="1.3" fill="none"/>
<rect x="211.46" y="461.84" width="4.79" height="13.16" fill="url(#g1)" stroke="#000" stroke-width="1.35"/>
<path d="M211.29 466.23H216.43" stroke="#000" stroke-width="1.2"/>
<path d="M222.19 460.09V488.51M220.49 460.09h3.4M220.49 488.51h3.4" stroke="#000" stroke-width="1.3" fill="none"/>
<rect x="219.71" y="467.11" width="4.97" height="21.4" fill="url(#g2)" stroke="#000" stroke-width="1.35"/>
<path d="M219.54 470.96H224.85" stroke="#000" stroke-width="1.2"/>
<path d="M230.53 455.7V485.18M228.83 455.7h3.4M228.83 485.18h3.4" stroke="#000" stroke-width="1.3" fill="none"/>
<rect x="228.13" y="460.61" width="4.79" height="14.39" fill="#767676" stroke="#000" stroke-width="1.35"/>
<path d="M227.96 466.23H233.1" stroke="#000" stroke-width="1.2"/>
<path d="M238.86 470.09V497.81M237.16 470.09h3.4M237.16 497.81h3.4" stroke="#000" stroke-width="1.3" fill="none"/>
<rect x="236.37" y="470.61" width="4.97" height="10.88" fill="#434343" stroke="#000" stroke-width="1.35"/>
<path d="M236.2 475.88H241.52" stroke="#000" stroke-width="1.2"/>
<path d="M252.63 467.11V494.3M250.93 467.11h3.4M250.93 494.3h3.4" stroke="#000" stroke-width="1.3" fill="none"/>
<rect x="250.23" y="476.75" width="4.79" height="6.49" fill="url(#g1)" stroke="#000" stroke-width="1.35"/>
<path d="M250.06 478.86H255.2" stroke="#000" stroke-width="1.2"/>
<path d="M261.05 462.72V496.93M259.35 462.72h3.4M259.35 496.93h3.4" stroke="#000" stroke-width="1.3" fill="none"/>
<rect x="258.48" y="473.6" width="5.14" height="17.54" fill="url(#g2)" stroke="#000" stroke-width="1.35"/>
<path d="M258.31 480.61H263.8" stroke="#000" stroke-width="1.2"/>
<path d="M269.3 470.96V496.93M267.6 470.96h3.4M267.6 496.93h3.4" stroke="#000" stroke-width="1.3" fill="none"/>
<rect x="266.9" y="475.88" width="4.79" height="12.63" fill="#767676" stroke="#000" stroke-width="1.35"/>
<path d="M266.73 484.65H271.87" stroke="#000" stroke-width="1.2"/>
<path d="M277.72 472.72V504.82M276.02 472.72h3.4M276.02 504.82h3.4" stroke="#000" stroke-width="1.3" fill="none"/>
<rect x="275.14" y="474.12" width="5.14" height="15.26" fill="#434343" stroke="#000" stroke-width="1.35"/>
<path d="M274.97 481.14H280.46" stroke="#000" stroke-width="1.2"/>
</g>
<rect x="290" y="24.7" width="8.3" height="3.8" fill="url(#g1)" stroke="#000" stroke-width="1.5"/>
<text x="302.8" y="28.8" font-size="6.3" fill="#222">IGF-1 ipsi</text>
<rect x="290" y="34.4" width="8.3" height="3.8" fill="url(#g2)" stroke="#000" stroke-width="1.5"/>
<text x="302.8" y="38.5" font-size="6.3" fill="#222">IGF-1 contra</text>
<rect x="290" y="44.7" width="8.3" height="3.8" fill="#767676" stroke="#000" stroke-width="1.5"/>
<text x="302.8" y="48.8" font-size="6.3" fill="#222">AP ipsi</text>
<rect x="290" y="53.3" width="8.3" height="3.8" fill="#434343" stroke="#000" stroke-width="1.5"/>
<text x="302.8" y="57.4" font-size="6.3" fill="#222">AP contra</text>
</svg>
</body></html>
